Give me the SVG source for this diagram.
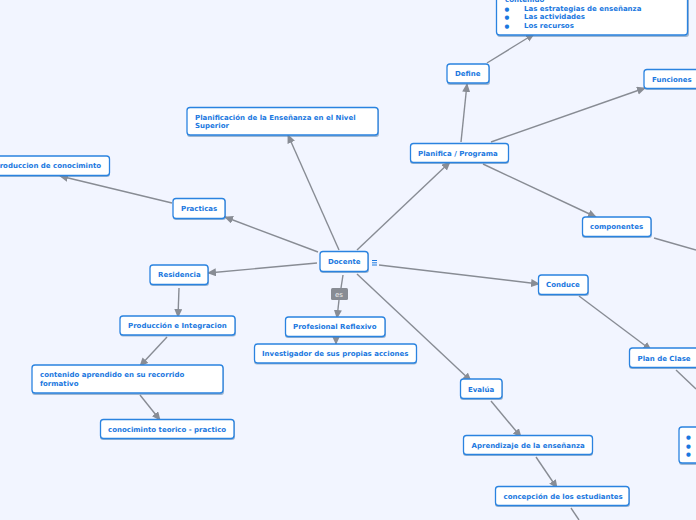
<svg xmlns="http://www.w3.org/2000/svg" width="696" height="520" viewBox="0 0 696 520">
<style>
.n{fill:#fff;stroke:#2a83e0;stroke-width:1.3}
.s{fill:#5b84ab;opacity:.55}
text{font-family:"DejaVu Sans",Verdana,sans-serif;font-size:7px;font-weight:700;fill:#1a78e0}
text.b{font-size:5.500px}
.c{stroke:#888c94;stroke-width:1.4;fill:none;marker-end:url(#a)}
.p{stroke:#888c94;stroke-width:1.4;fill:none}
</style>
<defs>
<marker id="a" markerUnits="userSpaceOnUse" markerWidth="10" markerHeight="9" refX="8" refY="4" orient="auto"><path d="M0 0L9 4L0 8Z" fill="#888c94"/></marker>
</defs>
<rect width="696" height="520" fill="#f2f5ff"/>
<g id="connectors">
<path class="c" d="M487 63L534 34"/>
<path class="c" d="M461 142L467 84"/>
<path class="c" d="M491 142L645 88"/>
<path class="c" d="M357 250L450 162"/>
<path class="c" d="M339 250L288 135"/>
<path class="c" d="M318 252L225 217"/>
<path class="c" d="M172 203L60 176"/>
<path class="c" d="M317 263L208 273"/>
<path class="c" d="M179 288L178 317"/>
<path class="c" d="M167 337L140 366"/>
<path class="c" d="M140 395L160 420"/>
<path class="p" d="M343 275L341 288"/>
<path class="c" d="M339 300L337 318"/>
<path class="c" d="M336 339L336 344"/>
<path class="c" d="M379 265L539 284"/>
<path class="c" d="M579 296L651 350"/>
<path class="p" d="M676 370L696 389"/>
<path class="c" d="M357 274L471 381"/>
<path class="c" d="M491 401L521 437"/>
<path class="c" d="M536 457L557 488"/>
<path class="p" d="M571 508L579 520"/>
<path class="c" d="M483 164L596 217"/>
<path class="p" d="M654 238L696 250"/>
</g>
<g id="n1"><rect class="s" x="497" y="-20" width="192" height="57" rx="3"/><rect class="n" x="496.500" y="-20" width="191" height="55" rx="3"/>
<text x="505" y="2">contenido</text><text class="b" x="504.500" y="10.500">●</text><text x="524" y="11">Las estrategias de enseñanza</text><text class="b" x="504.500" y="18.500">●</text><text x="524" y="19">Las actividades</text><text class="b" x="504.500" y="27.500">●</text><text x="524" y="28">Los recursos</text></g>
<g id="n2"><rect class="s" x="447" y="65" width="43" height="20" rx="3"/><rect class="n" x="447" y="64" width="42" height="19" rx="3"/><text x="455" y="76">Define</text></g>
<g id="n3"><rect class="s" x="644" y="70" width="56" height="20" rx="3"/><rect class="n" x="644" y="69.500" width="56" height="19" rx="3"/><text x="652" y="82">Funciones</text></g>
<g id="n4"><rect class="s" x="187" y="108" width="192" height="29" rx="3"/><rect class="n" x="187" y="107.500" width="191" height="27.500" rx="3"/><text x="195" y="120">Planificación de la Enseñanza en el Nivel</text><text x="195" y="128">Superior</text></g>
<g id="n5"><rect class="s" x="410" y="144" width="99" height="20" rx="3"/><rect class="n" x="410.500" y="143.500" width="98" height="19" rx="3"/><text x="418" y="156">Planifica / Programa</text></g>
<g id="n6"><rect class="s" x="-14" y="157" width="124" height="20" rx="3"/><rect class="n" x="-14" y="156" width="123.500" height="19.500" rx="3"/><text x="-5.500" y="168">Produccion de conociminto</text></g>
<g id="n7"><rect class="s" x="173" y="199" width="53" height="21" rx="3"/><rect class="n" x="173" y="198.500" width="52" height="20" rx="3"/><text x="181" y="211">Practicas</text></g>
<g id="n8"><rect class="s" x="582" y="218" width="70" height="20" rx="3"/><rect class="n" x="582.500" y="217" width="68.500" height="19.500" rx="3"/><text x="590" y="229">componentes</text></g>
<g id="n9"><rect class="s" x="320" y="252" width="49" height="21" rx="3"/><rect class="n" x="320" y="251.500" width="48" height="20" rx="3"/><text x="328" y="264">Docente</text>
<path d="M372 260.500h5M372 262.800h5M372 265h5" stroke="#1a78e0" stroke-width="1" fill="none"/></g>
<g id="n10"><rect class="s" x="150" y="266" width="59" height="20" rx="3"/><rect class="n" x="150" y="265" width="58" height="19.500" rx="3"/><text x="158" y="277">Residencia</text></g>
<g id="n11"><rect class="s" x="538" y="276" width="51" height="20" rx="3"/><rect class="n" x="538.500" y="275" width="49.500" height="19.500" rx="3"/><text x="546" y="287">Conduce</text></g>
<g id="n12"><rect class="s" x="120" y="317" width="116" height="19.500" rx="3"/><rect class="n" x="120" y="316" width="115" height="19" rx="3"/><text x="128" y="328">Producción e Integracion</text></g>
<g id="n13"><rect class="s" x="285" y="318" width="101" height="20" rx="3"/><rect class="n" x="285.500" y="317" width="99.500" height="19.500" rx="3"/><text x="293" y="329">Profesional Reflexivo</text></g>
<g id="n14"><rect class="s" x="254" y="345" width="163" height="19.500" rx="3"/><rect class="n" x="254.500" y="344" width="162" height="19" rx="3"/><text x="262" y="356">Investigador de sus propias acciones</text></g>
<g id="n15"><rect class="s" x="32" y="366" width="192" height="29" rx="3"/><rect class="n" x="32" y="365" width="191" height="28" rx="3"/><text x="40" y="377">contenido aprendido en su recorrido</text><text x="40" y="386">formativo</text></g>
<g id="n16"><rect class="s" x="629" y="349" width="70" height="20" rx="3"/><rect class="n" x="629.500" y="348" width="70" height="19.500" rx="3"/><text x="637.500" y="361">Plan de Clase</text></g>
<g id="n17"><rect class="s" x="460" y="380" width="43" height="20" rx="3"/><rect class="n" x="460.500" y="379" width="41.500" height="19.500" rx="3"/><text x="468" y="392">Evalúa</text></g>
<g id="n18"><rect class="s" x="100" y="420" width="135" height="20" rx="3"/><rect class="n" x="100.500" y="419.500" width="133.500" height="19" rx="3"/><text x="108" y="432">conociminto teorico - practico</text></g>
<g id="n19"><rect class="s" x="679" y="428" width="30" height="37" rx="3"/><rect class="n" x="679" y="427" width="30" height="36" rx="3"/><text class="b" x="686" y="438.500">●</text><text class="b" x="686" y="447.500">●</text><text class="b" x="686" y="455.500">●</text></g>
<g id="n20"><rect class="s" x="463" y="436" width="130" height="20" rx="3"/><rect class="n" x="463.500" y="435.500" width="129" height="19" rx="3"/><text x="471.500" y="448">Aprendizaje de la enseñanza</text></g>
<g id="n21"><rect class="s" x="495" y="487" width="135" height="20" rx="3"/><rect class="n" x="495.500" y="486.500" width="133.500" height="19" rx="3"/><text x="503.500" y="499">concepción de los estudiantes</text></g>
<g id="edge-label"><rect x="331" y="288" width="17" height="12" rx="1.500" fill="#888c94"/><text x="335" y="296.500" style="fill:#eee;font-size:7px;font-weight:400">es</text></g>
</svg>
